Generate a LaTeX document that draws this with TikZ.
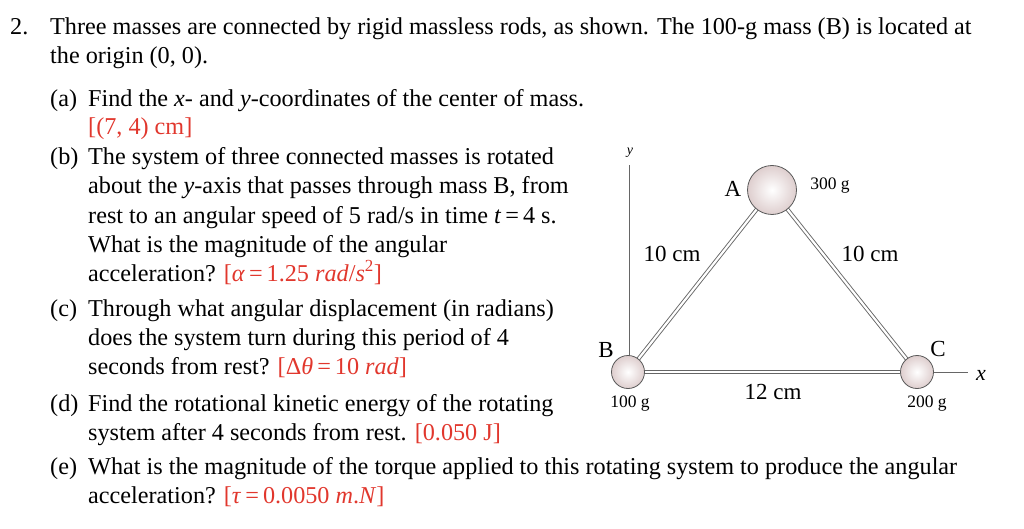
\documentclass[tikz,border=0pt]{standalone}
\usepackage{fontspec}
\setmainfont{Liberation Serif}
\begin{document}
\begin{tikzpicture}[x=1pt,y=-1pt,
  txt/.style={anchor=base west,inner sep=0pt,font=\fontsize{24.2}{28}\selectfont},
  lbl/.style={inner sep=0pt,font=\fontsize{23}{26}\selectfont},
  mass/.style={inner sep=0pt,font=\fontsize{17.5}{20}\selectfont},
  rod/.style={draw=gray!80!black,double=white,double distance=2.2pt,line width=0.9pt},
  ball/.style={circle,draw=gray!70!black,line width=0.8pt,inner color=white,outer color={rgb,255:red,222;green,206;blue,206},inner sep=0pt}]
\useasboundingbox (0,0) rectangle (1024,529);
\definecolor{ans}{RGB}{225,55,45}
\node[txt] (n2) at (10,35) {2.};
\node[txt] (l1) at (50,35) {Three masses are connected by rigid massless rods, as shown. The 100-g mass (B) is located at};
\node[txt] (l2) at (50,64) {the origin (0, 0).};
\node[txt] (pa) at (50,107) {(a)};
\node[txt] (a1) at (88,107) {Find the \textit{x}- and \textit{y}-coordinates of the center of mass.};
\node[txt,text=ans] (a2) at (88,135) {[(7, 4) cm]};
\node[txt] (pb) at (50,165) {(b)};
\node[txt] (b1) at (88,165) {The system of three connected masses is rotated};
\node[txt] (b2) at (88,194) {about the \textit{y}-axis that passes through mass B, from};
\node[txt] (b3) at (88,223) {rest to an angular speed of 5 rad/s in time \textit{t}\,=\,4 s.};
\node[txt] (b4) at (88,252) {What is the magnitude of the angular};
\node[txt] (b5) at (88,281) {acceleration? \textcolor{ans}{[\textit{α}\,=\,1.25 \textit{rad}/\textit{s}\textsuperscript{2}]}};
\node[txt] (pc) at (50,316) {(c)};
\node[txt] (c1) at (88,316) {Through what angular displacement (in radians)};
\node[txt] (c2) at (88,345) {does the system turn during this period of 4};
\node[txt] (c3) at (88,374) {seconds from rest? \textcolor{ans}{[Δ\textit{θ}\,=\,10 \textit{rad}]}};
\node[txt] (pd) at (50,411) {(d)};
\node[txt] (d1) at (88,411) {Find the rotational kinetic energy of the rotating};
\node[txt] (d2) at (88,440) {system after 4 seconds from rest. \textcolor{ans}{[0.050 J]}};
\node[txt] (pe) at (50,474) {(e)};
\node[txt] (e1) at (88,474) {What is the magnitude of the torque applied to this rotating system to produce the angular};
\node[txt] (e2) at (88,503) {acceleration? \textcolor{ans}{[\textit{τ}\,=\,0.0050 \textit{m}.\textit{N}]}};
% diagram
\coordinate (ytop) at (629,165);
\coordinate (xend) at (968,372);
\node[lbl,font=\fontsize{14}{16}\selectfont\itshape] (ylab) at (630,153) {y};
\node[lbl,font=\fontsize{22}{26}\selectfont\itshape] (xlab) at (981,375) {x};
\draw[gray!80!black,line width=0.9pt] (629,372) -- (ytop);
\draw[gray!80!black,line width=0.9pt] (917,372) -- (xend);
\coordinate (Bc) at (628,372);
\coordinate (Cc) at (917,372);
\coordinate (Ac) at (772,190);
\draw[rod] (Bc) -- (Cc);
\draw[rod] (Bc) -- (Ac);
\draw[rod] (Ac) -- (Cc);
\node[ball,minimum size=33pt] (B) at (Bc) {};
\node[ball,minimum size=33pt] (C) at (Cc) {};
\node[ball,minimum size=49pt] (A) at (Ac) {};
\node[lbl] (Al) at (733,189) {A};
\node[lbl] (Bl) at (606,350) {B};
\node[lbl] (Cl) at (938,349) {C};
\node[mass] (Am) at (830,186) {300 g};
\node[mass] (Bm) at (630,404) {100 g};
\node[mass] (Cm) at (927,404) {200 g};
\node[lbl] (d10a) at (672,254) {10 cm};
\node[lbl] (d10b) at (870,254) {10 cm};
\node[lbl] (d12) at (773,392) {12 cm};
\end{tikzpicture}
\end{document}
